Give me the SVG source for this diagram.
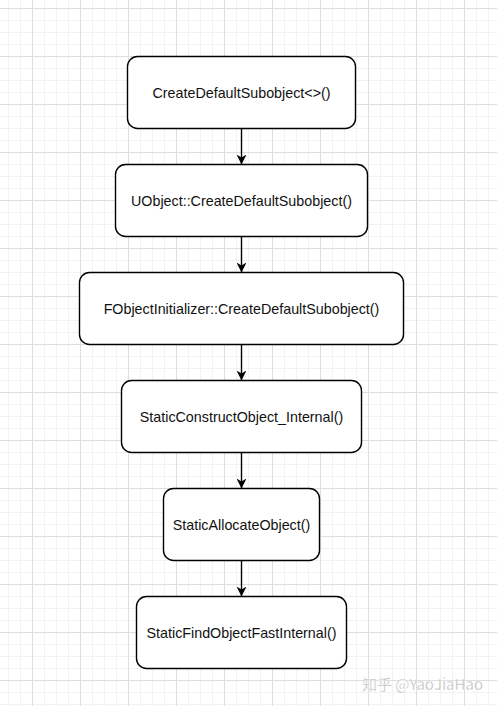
<svg xmlns="http://www.w3.org/2000/svg" width="497" height="706" viewBox="0 0 497 706">
<defs>
<pattern id="minor" x="8" y="8" width="12" height="12" patternUnits="userSpaceOnUse">
<path d="M0 0.5H12M0.5 0V12" fill="none" stroke="#f2f2f2" stroke-width="1"/>
</pattern>
<pattern id="major" x="32" y="8" width="48" height="48" patternUnits="userSpaceOnUse">
<path d="M0 0.5H48M0.5 0V48" fill="none" stroke="#dedede" stroke-width="1"/>
</pattern>
<marker id="arr" viewBox="0 0 10 10" refX="9.5" refY="5" markerWidth="10" markerHeight="10" markerUnits="userSpaceOnUse" orient="auto">
<path d="M0 0L10 5L0 10L3 5Z" fill="#000"/>
</marker>
<style>
.box{fill:#fff;stroke:#000;stroke-width:1.4}
.lbl{font-family:"Liberation Sans",Arial,sans-serif;font-size:14.3px;fill:#111;text-anchor:middle;dominant-baseline:central}
.edge{stroke:#000;stroke-width:1.4;fill:none}
</style>
</defs>
<rect width="497" height="706" fill="#fff"/>
<rect width="497" height="706" fill="url(#minor)"/>
<rect width="497" height="706" fill="url(#major)"/>
<g id="n1"><rect class="box" x="127.5" y="56.5" width="228" height="72" rx="10"/><text class="lbl" x="241.5" y="92.5">CreateDefaultSubobject&lt;&gt;()</text></g>
<g id="n2"><rect class="box" x="115.5" y="164.5" width="252" height="72" rx="10"/><text class="lbl" x="241.5" y="200.5">UObject::CreateDefaultSubobject()</text></g>
<g id="n3"><rect class="box" x="79.5" y="272.5" width="324" height="72" rx="10"/><text class="lbl" x="241.5" y="308.5">FObjectInitializer::CreateDefaultSubobject()</text></g>
<g id="n4"><rect class="box" x="121.5" y="380.5" width="240" height="72" rx="10"/><text class="lbl" x="241.5" y="416.5">StaticConstructObject_Internal()</text></g>
<g id="n5"><rect class="box" x="163.5" y="488.5" width="156" height="72" rx="10"/><text class="lbl" x="241.5" y="524.5">StaticAllocateObject()</text></g>
<g id="n6"><rect class="box" x="136.5" y="596.5" width="210" height="72" rx="10"/><text class="lbl" x="241.5" y="632.5">StaticFindObjectFastInternal()</text></g>
<g id="edges">
<path class="edge" d="M241.5 128.5V164" marker-end="url(#arr)"/>
<path class="edge" d="M241.5 236.5V272" marker-end="url(#arr)"/>
<path class="edge" d="M241.5 344.5V380" marker-end="url(#arr)"/>
<path class="edge" d="M241.5 452.5V488" marker-end="url(#arr)"/>
<path class="edge" d="M241.5 560.5V596" marker-end="url(#arr)"/>
</g>
<text x="362" y="690" font-family="'Noto Sans CJK SC','Liberation Sans',sans-serif" font-size="15" fill="#bdbdbd" stroke="#fff" stroke-width="0.3">知乎 @YaoJiaHao</text>
</svg>
